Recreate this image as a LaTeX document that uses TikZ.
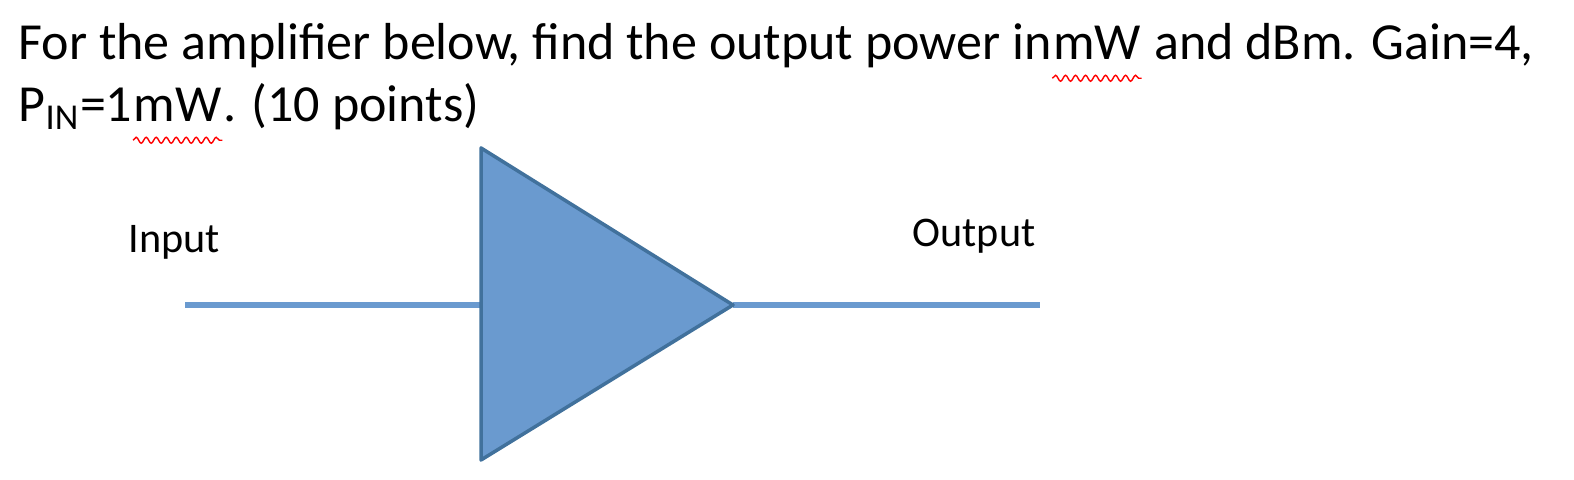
\documentclass[tikz,border=0pt]{standalone}
\usepackage{fontspec}
\setmainfont{Carlito}
\usetikzlibrary{decorations.pathmorphing}
\definecolor{ampfill}{HTML}{6A9ACF}
\definecolor{ampdraw}{HTML}{41719C}
\definecolor{wire}{HTML}{6A9ACF}
\tikzset{ txt/.style = { anchor = base west % question text
        , inner sep = 0pt
        , font = \fontsize{14.8pt}{18pt}\selectfont
        }
        , lbl/.style = { anchor = base west % port label
        , inner sep = 0pt
        , font = \fontsize{12pt}{14pt}\selectfont
        }
        , wire_style/.style = { draw = wire, line width = 1.7pt }
        , amp_style/.style = { draw = ampdraw, fill = ampfill, line width = 1pt, line join = round }
        , spell/.style = { draw = red, line width = 0.4pt, decorate
        , decoration = {snake, amplitude = 0.3mm, segment length = 1mm}
        }
        }
\begin{document}
\begin{tikzpicture}[x=0.01cm, y=0.01cm]
        \useasboundingbox (0,0) rectangle (1574,480);

        \node [txt] (l1a) at (18,420) {For the amplifier below, find the output power in\ };
        \node [txt] (l1mw) at (l1a.base east) {mW};
        \node [txt] (l1b) at (l1mw.base east) {\ and dBm. Gain=4,};
        \node [txt] (l2a) at (18,358) {P\textsubscript{IN}=1\ };
        \node [txt] (l2mw) at (l2a.base east) {mW};
        \node [txt] (l2b) at (l2mw.base east) {. (10 points)};
        \draw [spell] ([yshift=-5]l1mw.south west) -- ([yshift=-5]l1mw.south east);
        \draw [spell] ([yshift=-5]l2mw.south west) -- ([yshift=-5]l2mw.south east);

        \coordinate (amp_top) at (481,332);
        \coordinate (amp_bot) at (481,20);
        \coordinate (amp_out) at (733,175);
        \coordinate (amp_in) at (481,175);
        \coordinate (in_end) at (185,175);
        \coordinate (out_end) at (1040,175);

        \draw [wire_style] (in_end) -- (amp_in);
        \draw [wire_style] (amp_out) -- (out_end);
        \draw [amp_style] (amp_top) -- (amp_out) -- (amp_bot) -- cycle;

        \node [lbl] (in_lbl) at (128,227) {Input};
        \node [lbl] (out_lbl) at (912,233) {Output};
\end{tikzpicture}
\end{document}
